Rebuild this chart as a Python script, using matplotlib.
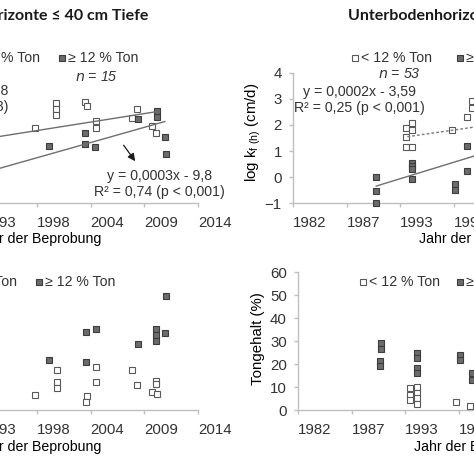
import numpy as np
import matplotlib
matplotlib.use("Agg")
import matplotlib.pyplot as plt

plt.rcParams['font.family'] = ['Liberation Sans', 'DejaVu Sans']
plt.rcParams['font.size'] = 10.2
plt.rcParams['text.color'] = '#333333'

# x axis (Excel style date axis)
year_ticks = np.linspace(1982, 2014, 7)
year_labels = ['1982', '1987', '1993', '1998', '2004', '2009', '2014']

# top left: log kf, topsoil
tl_open_x = [1997.8, 1999.9, 1999.9, 1999.9, 2002.8, 2003.0, 2003.9, 2003.9, 2007.9, 2007.4, 2009.4, 2009.8]
tl_open_y = [1.89, 2.85, 2.61, 2.37, 2.89, 2.74, 2.15, 1.89, 2.60, 2.27, 1.95, 1.70]
tl_fill_x = [1999.2, 2002.8, 2002.8, 2003.8, 2008.0, 2009.9, 2009.9, 2010.7, 2010.8]
tl_fill_y = [1.21, 1.70, 1.26, 1.17, 2.24, 2.54, 2.32, 1.55, 0.88]
tl_fit_open_x = [1992.0, 2009.9]
tl_fit_open_y = [1.42, 2.51]
tl_fit_fill_x = [1992.0, 2010.7]
tl_fit_fill_y = [0.09, 2.13]

# top right: log kf, subsoil
tr_open_x = [1993.3, 1993.3, 1993.3, 1993.9, 1993.9, 1993.9, 1997.85, 1999.3, 1999.8, 1999.8]
tr_open_y = [1.87, 1.55, 1.17, 2.07, 1.81, 1.17, 1.81, 2.30, 2.90, 2.65]
tr_fill_x = [1990.3, 1990.3, 1990.3, 1993.9, 1993.9, 1993.9, 1993.9, 1998.1, 1998.1, 1999.3, 1999.3]
tr_fill_y = [0.0, -0.52, -1.0, 0.55, 0.42, 0.30, -0.07, -0.27, -0.49, 1.19, 0.22]
tr_fit_open_x = [1993.4, 2011.0]
tr_fit_open_y = [1.55, 2.52]
tr_fit_fill_x = [1990.3, 2011.0]
tr_fit_fill_y = [-0.34, 2.10]

# bottom left: clay content, topsoil
bl_open_x = [1997.8, 1999.95, 1999.95, 1999.95, 2003.0, 2002.9, 2003.9, 2003.9, 2007.4, 2007.9, 2009.8, 2009.8, 2009.4, 2009.9]
bl_open_y = [6.6, 17.5, 12.4, 9.8, 6.3, 3.5, 18.7, 12.4, 17.5, 11.0, 12.7, 11.4, 7.8, 6.9]
bl_fill_x = [1999.2, 2002.9, 2003.9, 2002.9, 2008.0, 2009.8, 2009.8, 2009.8, 2010.7, 2010.8]
bl_fill_y = [21.7, 33.8, 35.4, 20.8, 28.8, 35.1, 32.7, 30.1, 33.4, 49.6]

# bottom right: clay content, subsoil
br_open_x = [1993.2, 1993.2, 1993.2, 1993.9, 1993.9, 1993.9, 1993.9, 1997.75, 1999.15]
br_open_y = [9.5, 6.6, 4.5, 10.2, 7.4, 5.2, 2.7, 3.7, 1.9]
br_fill_x = [1990.3, 1990.3, 1990.2, 1990.2, 1993.9, 1993.9, 1993.9, 1993.9, 1998.1, 1998.1, 1999.3, 1999.3]
br_fill_y = [29.1, 26.6, 21.4, 19.2, 24.7, 22.5, 18.2, 16.0, 24.0, 21.7, 16.0, 13.1]

AX_COL = '#bfbfbf'
FILL = '#6b6b6b'
EDGE = '#3c3c3c'
OPEN_EDGE = '#595959'
MS = 4.8

fig = plt.figure(figsize=(4.74, 4.74), dpi=100)
W = 474.0


def px_axes(x0, x1, ytop, ybot):
    return fig.add_axes([x0 / W, 1 - ybot / W, (x1 - x0) / W, (ybot - ytop) / W])


ax_tl = px_axes(-124, 198, 72.7, 203.3)
ax_tr = px_axes(293, 614, 72.7, 203.3)
ax_bl = px_axes(-124, 198, 272, 410.3)
ax_br = px_axes(298, 619, 272, 410.3)


def style(ax, ylim, yticks):
    ax.set_xlim(1982, 2014)
    ax.set_ylim(*ylim)
    ax.set_yticks(yticks)
    ax.set_xticks(year_ticks)
    ax.set_xticklabels(year_labels, ha='left')
    for s in ['top', 'right']:
        ax.spines[s].set_visible(False)
    for s in ['left', 'bottom']:
        ax.spines[s].set_color(AX_COL)
        ax.spines[s].set_linewidth(1.0)
    ax.tick_params(axis='both', colors=AX_COL, labelcolor='#333333', length=3, width=1.0,
                   labelsize=10.8)
    ax.tick_params(axis='x', pad=6)
    ax.tick_params(axis='y', pad=5)
    ax.set_facecolor('none')


def points(ax, ox, oy, fx, fy):
    ax.plot(ox, oy, ls='none', marker='s', ms=MS, mfc='white', mec=OPEN_EDGE, mew=0.8, clip_on=False, zorder=3)
    ax.plot(fx, fy, ls='none', marker='s', ms=MS, mfc=FILL, mec=EDGE, mew=0.8, clip_on=False, zorder=4)


def legend(ax, xo, xf, y):
    ax.plot([xo], [y], transform=ax.transAxes, ls='none', marker='s', ms=MS, mfc='white', mec=OPEN_EDGE, mew=0.8, clip_on=False)
    ax.text(xo + 0.018, y, '< 12 % Ton', transform=ax.transAxes, va='center', ha='left')
    ax.plot([xf], [y], transform=ax.transAxes, ls='none', marker='s', ms=MS, mfc=FILL, mec=EDGE, mew=0.8, clip_on=False)
    ax.text(xf + 0.018, y, '≥ 12 % Ton', transform=ax.transAxes, va='center', ha='left')


top_yt = [-1, 0, 1, 2, 3, 4]
bot_yt = [0, 10, 20, 30, 40, 50, 60]
style(ax_tl, (-1, 4), top_yt)
style(ax_tr, (-1, 4), top_yt)
style(ax_bl, (0, 60), bot_yt)
style(ax_br, (0, 60), bot_yt)

# top left
points(ax_tl, tl_open_x, tl_open_y, tl_fill_x, tl_fill_y)
ax_tl.plot(tl_fit_open_x, tl_fit_open_y, color='#6e6e6e', lw=1.0, zorder=5)
ax_tl.plot(tl_fit_fill_x, tl_fit_fill_y, color='#6e6e6e', lw=1.0, zorder=5)
legend(ax_tl, 0.272, 0.578, 1.116)
ax_tl.text(0.686, 0.967, '$n$ = 15', transform=ax_tl.transAxes, ha='center', va='center', style='italic')
ax_tl.text(0.412, 0.80, 'y = 0,0001x - 1,58\nR² = 0,43 (p = 0,003)', transform=ax_tl.transAxes,
           ha='right', va='center', ma='right', linespacing=1.15)
ax_tl.text(0.881, 0.148, 'y = 0,0003x - 9,8\nR² = 0,74 (p < 0,001)', transform=ax_tl.transAxes,
           ha='center', va='center', linespacing=1.15)
ax_tl.annotate('', xy=(0.810, 0.305), xytext=(0.764, 0.462), xycoords='axes fraction',
               arrowprops=dict(arrowstyle='-|>', color='#1a1a1a', lw=0.9, mutation_scale=11))
ax_tl.set_xlabel('Jahr der Beprobung')
ax_tl.xaxis.set_label_coords(0.505, -0.22)

# top right
points(ax_tr, tr_open_x, tr_open_y, tr_fill_x, tr_fill_y)
ax_tr.plot(tr_fit_open_x, tr_fit_open_y, color='#7a7a7a', lw=1.0, ls=(0, (2, 1.5)), zorder=5)
ax_tr.plot(tr_fit_fill_x, tr_fit_fill_y, color='#6e6e6e', lw=1.0, zorder=5)
legend(ax_tr, 0.193, 0.520, 1.113)
ax_tr.text(0.330, 0.99, '$n$ = 53', transform=ax_tr.transAxes, ha='center', va='center', style='italic')
ax_tr.text(0.206, 0.79, 'y = 0,0002x - 3,59\nR² = 0,25 (p < 0,001)', transform=ax_tr.transAxes,
           ha='center', va='center', linespacing=1.15)
ax_tr.set_ylabel(r'log k$_{\mathregular{f\ (h)}}$ (cm/d)', fontsize=10.8)
ax_tr.yaxis.set_label_coords(-0.094, 0.546)
ax_tr.set_xlabel('Jahr der Beprobung')
ax_tr.xaxis.set_label_coords(0.587, -0.22)

# bottom left
points(ax_bl, bl_open_x, bl_open_y, bl_fill_x, bl_fill_y)
legend(ax_bl, 0.199, 0.506, 0.928)
ax_bl.set_xlabel('Jahr der Beprobung')
ax_bl.xaxis.set_label_coords(0.505, -0.215)

# bottom right
points(ax_br, br_open_x, br_open_y, br_fill_x, br_fill_y)
legend(ax_br, 0.2025, 0.505, 0.928)
ax_br.set_ylabel('Tongehalt (%)', fontsize=10.8)
ax_br.yaxis.set_label_coords(-0.103, 0.516)
ax_br.set_xlabel('Jahr der Beprobung')
ax_br.xaxis.set_label_coords(0.556, -0.215)

# panel titles
fig.text(148 / W, 1 - 16 / W, 'Oberbodenhorizonte ≤ 40 cm Tiefe', ha='right', va='center',
         fontsize=11.5, fontweight='bold', family=['Lato', 'DejaVu Sans'], color='#1a1a1a')
fig.text(348 / W, 1 - 16 / W, 'Unterbodenhorizonte > 40 cm Tiefe', ha='left', va='center',
         fontsize=11.5, fontweight='bold', family=['Lato', 'DejaVu Sans'], color='#1a1a1a')

fig.savefig('out.png', dpi=100)
